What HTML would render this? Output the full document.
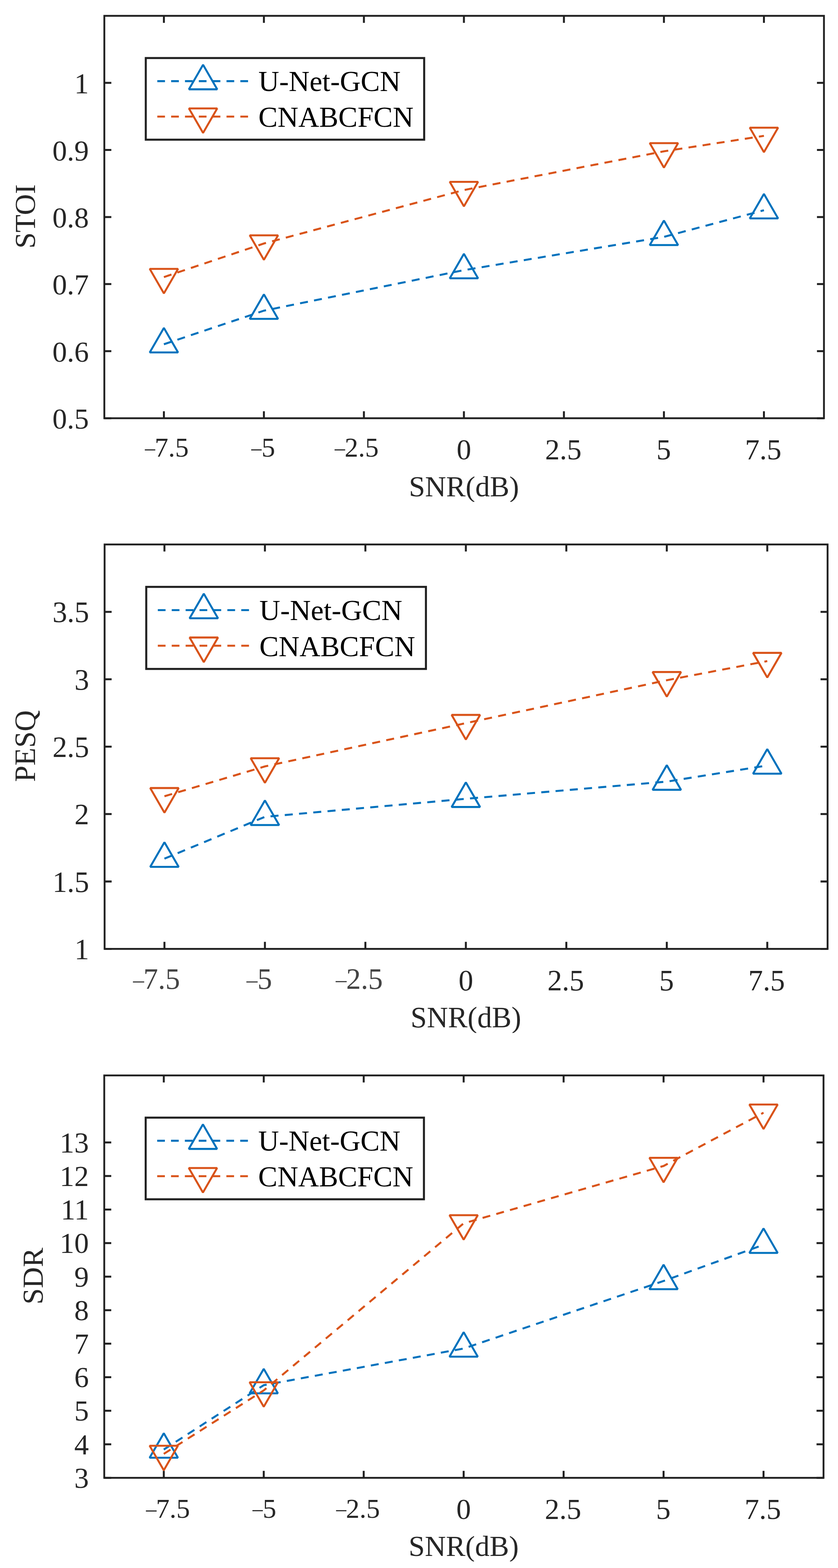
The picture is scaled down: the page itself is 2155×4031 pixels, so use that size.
<!DOCTYPE html>
<html lang="en"><head><meta charset="utf-8"><title>STOI, PESQ and SDR versus SNR</title>
<style>
html,body{margin:0;padding:0;background:#fff}
body{width:2155px;height:4031px;overflow:hidden}
svg{display:block}
svg text{font-family:"Liberation Serif","Times New Roman",Times,serif}
</style></head><body>
<svg width="2155" height="4031" viewBox="0 0 2155 4031">
<defs><clipPath id="xlc"><rect x="900" y="1206.1000000000001" width="600" height="84.2"/></clipPath></defs>
<rect width="2155" height="4031" fill="#fff"/>
<g transform="translate(0,0)">
<polyline points="421.47,885.00 678.65,798.70 1193.00,694.50 1707.35,609.00 1964.53,540.50" fill="none" stroke="#0072BD" stroke-width="5.1" stroke-dasharray="20.5 16.12"/>
<polygon points="421.47,843.00 457.85,906.00 385.10,906.00" fill="none" stroke="#0072BD" stroke-width="5.1" stroke-linejoin="bevel"/>
<polygon points="678.65,756.70 715.02,819.70 642.28,819.70" fill="none" stroke="#0072BD" stroke-width="5.1" stroke-linejoin="bevel"/>
<polygon points="1193.00,652.50 1229.37,715.50 1156.63,715.50" fill="none" stroke="#0072BD" stroke-width="5.1" stroke-linejoin="bevel"/>
<polygon points="1707.35,567.00 1743.72,630.00 1670.98,630.00" fill="none" stroke="#0072BD" stroke-width="5.1" stroke-linejoin="bevel"/>
<polygon points="1964.53,498.50 2000.90,561.50 1928.15,561.50" fill="none" stroke="#0072BD" stroke-width="5.1" stroke-linejoin="bevel"/>
<polyline points="421.47,712.30 678.65,626.00 1193.00,488.50 1707.35,389.00 1964.53,349.30" fill="none" stroke="#D95319" stroke-width="5.1" stroke-dasharray="20.5 16.12"/>
<polygon points="421.47,754.30 457.85,691.30 385.10,691.30" fill="none" stroke="#D95319" stroke-width="5.1" stroke-linejoin="bevel"/>
<polygon points="678.65,668.00 715.02,605.00 642.28,605.00" fill="none" stroke="#D95319" stroke-width="5.1" stroke-linejoin="bevel"/>
<polygon points="1193.00,530.50 1229.37,467.50 1156.63,467.50" fill="none" stroke="#D95319" stroke-width="5.1" stroke-linejoin="bevel"/>
<polygon points="1707.35,431.00 1743.72,368.00 1670.98,368.00" fill="none" stroke="#D95319" stroke-width="5.1" stroke-linejoin="bevel"/>
<polygon points="1964.53,391.30 2000.90,328.30 1928.15,328.30" fill="none" stroke="#D95319" stroke-width="5.1" stroke-linejoin="bevel"/>
<rect x="268.3" y="40.7" width="1850.60" height="1034.50" fill="none" stroke="#202020" stroke-width="4.7"/>
<path d="M421.47 1075.2V1057.2M421.47 40.7V58.7M678.65 1075.2V1057.2M678.65 40.7V58.7M935.83 1075.2V1057.2M935.83 40.7V58.7M1193.00 1075.2V1057.2M1193.00 40.7V58.7M1450.17 1075.2V1057.2M1450.17 40.7V58.7M1707.35 1075.2V1057.2M1707.35 40.7V58.7M1964.53 1075.2V1057.2M1964.53 40.7V58.7M268.3 1075.20H286.3M2118.9 1075.20H2100.9M268.3 902.78H286.3M2118.9 902.78H2100.9M268.3 730.37H286.3M2118.9 730.37H2100.9M268.3 557.95H286.3M2118.9 557.95H2100.9M268.3 385.53H286.3M2118.9 385.53H2100.9M268.3 213.12H286.3M2118.9 213.12H2100.9" fill="none" stroke="#202020" stroke-width="5.0"/>
<g fill="#262626" font-size="75">



<text x="1193.00" y="1180.80" text-anchor="middle">0</text>
<text x="1448.58" y="1180.80" text-anchor="middle">2.5</text>
<text x="1706.75" y="1180.80" text-anchor="middle">5</text>
<text x="1962.73" y="1180.80" text-anchor="middle">7.5</text>
<text x="228.6" y="1102.20" text-anchor="end">0.5</text>
<text x="228.6" y="929.78" text-anchor="end">0.6</text>
<text x="228.6" y="757.37" text-anchor="end">0.7</text>
<text x="228.6" y="584.95" text-anchor="end">0.8</text>
<text x="228.6" y="412.53" text-anchor="end">0.9</text>
<text x="228.6" y="240.12" text-anchor="end">1</text>
<text x="1193.10" y="1276.10" text-anchor="middle" clip-path="url(#xlc)">SNR(dB)</text>
<text transform="translate(90.2,556.45) rotate(-90)" text-anchor="middle">STOI</text>
</g>
<rect x="374.9" y="149.2" width="715.90" height="209.90" fill="#fff" stroke="#202020" stroke-width="5.2"/>
<line x1="404.5" y1="208.6" x2="638.7" y2="208.6" stroke="#0072BD" stroke-width="5.1" stroke-dasharray="19.8 15.8"/>
<polygon points="522.20,166.60 558.57,229.60 485.83,229.60" fill="none" stroke="#0072BD" stroke-width="5.1" stroke-linejoin="bevel"/>
<text x="664.5" y="234.1" font-size="74" fill="#000">U-Net-GCN</text>
<line x1="404.5" y1="299.7" x2="638.7" y2="299.7" stroke="#D95319" stroke-width="5.1" stroke-dasharray="19.8 15.8"/>
<polygon points="522.20,341.70 558.57,278.70 485.83,278.70" fill="none" stroke="#D95319" stroke-width="5.1" stroke-linejoin="bevel"/>
<text x="664.5" y="326.4" font-size="74" fill="#000">CNABCFCN</text>
</g>
<g transform="translate(-0.55,1358.8) scale(1.00465,1.00503)">
<polyline points="421.47,844.38 678.65,737.41 1193.00,691.24 1707.35,647.26 1964.53,606.07" fill="none" stroke="#0072BD" stroke-width="5.1" stroke-dasharray="20.5 16.12"/>
<polygon points="421.47,802.38 457.85,865.38 385.10,865.38" fill="none" stroke="#0072BD" stroke-width="5.1" stroke-linejoin="bevel"/>
<polygon points="678.65,695.41 715.02,758.41 642.28,758.41" fill="none" stroke="#0072BD" stroke-width="5.1" stroke-linejoin="bevel"/>
<polygon points="1193.00,649.24 1229.37,712.24 1156.63,712.24" fill="none" stroke="#0072BD" stroke-width="5.1" stroke-linejoin="bevel"/>
<polygon points="1707.35,605.26 1743.72,668.26 1670.98,668.26" fill="none" stroke="#0072BD" stroke-width="5.1" stroke-linejoin="bevel"/>
<polygon points="1964.53,564.07 2000.90,627.07 1928.15,627.07" fill="none" stroke="#0072BD" stroke-width="5.1" stroke-linejoin="bevel"/>
<polyline points="421.47,684.78 678.65,608.46 1193.00,497.71 1707.35,387.96 1964.53,339.00" fill="none" stroke="#D95319" stroke-width="5.1" stroke-dasharray="20.5 16.12"/>
<polygon points="421.47,726.78 457.85,663.78 385.10,663.78" fill="none" stroke="#D95319" stroke-width="5.1" stroke-linejoin="bevel"/>
<polygon points="678.65,650.46 715.02,587.46 642.28,587.46" fill="none" stroke="#D95319" stroke-width="5.1" stroke-linejoin="bevel"/>
<polygon points="1193.00,539.71 1229.37,476.71 1156.63,476.71" fill="none" stroke="#D95319" stroke-width="5.1" stroke-linejoin="bevel"/>
<polygon points="1707.35,429.96 1743.72,366.96 1670.98,366.96" fill="none" stroke="#D95319" stroke-width="5.1" stroke-linejoin="bevel"/>
<polygon points="1964.53,381.00 2000.90,318.00 1928.15,318.00" fill="none" stroke="#D95319" stroke-width="5.1" stroke-linejoin="bevel"/>
<rect x="268.3" y="40.7" width="1850.60" height="1034.50" fill="none" stroke="#202020" stroke-width="4.7"/>
<path d="M421.47 1075.2V1057.2M421.47 40.7V58.7M678.65 1075.2V1057.2M678.65 40.7V58.7M935.83 1075.2V1057.2M935.83 40.7V58.7M1193.00 1075.2V1057.2M1193.00 40.7V58.7M1450.17 1075.2V1057.2M1450.17 40.7V58.7M1707.35 1075.2V1057.2M1707.35 40.7V58.7M1964.53 1075.2V1057.2M1964.53 40.7V58.7M268.3 1075.20H286.3M2118.9 1075.20H2100.9M268.3 902.78H286.3M2118.9 902.78H2100.9M268.3 730.37H286.3M2118.9 730.37H2100.9M268.3 557.95H286.3M2118.9 557.95H2100.9M268.3 385.53H286.3M2118.9 385.53H2100.9M268.3 213.12H286.3M2118.9 213.12H2100.9" fill="none" stroke="#202020" stroke-width="5.0"/>
<g fill="#262626" font-size="75">



<text x="1193.00" y="1180.80" text-anchor="middle">0</text>
<text x="1448.58" y="1180.80" text-anchor="middle">2.5</text>
<text x="1706.75" y="1180.80" text-anchor="middle">5</text>
<text x="1962.73" y="1180.80" text-anchor="middle">7.5</text>
<text x="228.6" y="1101.50" text-anchor="end">1</text>
<text x="228.6" y="929.08" text-anchor="end">1.5</text>
<text x="228.6" y="756.67" text-anchor="end">2</text>
<text x="228.6" y="584.25" text-anchor="end">2.5</text>
<text x="228.6" y="411.83" text-anchor="end">3</text>
<text x="228.6" y="239.42" text-anchor="end">3.5</text>
<text x="1193.10" y="1276.10" text-anchor="middle" clip-path="url(#xlc)">SNR(dB)</text>
<text transform="translate(90.5,556.45) rotate(-90)" text-anchor="middle">PESQ</text>
</g>
<rect x="374.9" y="149.2" width="715.90" height="209.90" fill="#fff" stroke="#202020" stroke-width="5.2"/>
<line x1="404.5" y1="208.6" x2="638.7" y2="208.6" stroke="#0072BD" stroke-width="5.1" stroke-dasharray="19.8 15.8"/>
<polygon points="522.20,166.60 558.57,229.60 485.83,229.60" fill="none" stroke="#0072BD" stroke-width="5.1" stroke-linejoin="bevel"/>
<text x="664.5" y="234.1" font-size="74" fill="#000">U-Net-GCN</text>
<line x1="404.5" y1="299.7" x2="638.7" y2="299.7" stroke="#D95319" stroke-width="5.1" stroke-dasharray="19.8 15.8"/>
<polygon points="522.20,341.70 558.57,278.70 485.83,278.70" fill="none" stroke="#D95319" stroke-width="5.1" stroke-linejoin="bevel"/>
<text x="664.5" y="326.4" font-size="74" fill="#000">CNABCFCN</text>
</g>
<g transform="translate(-0.07,2724.0) scale(0.9995,1)">
<polyline points="421.47,1002.50 678.65,837.00 1193.00,742.80 1707.35,569.20 1964.53,476.00" fill="none" stroke="#0072BD" stroke-width="5.1" stroke-dasharray="20.5 16.12"/>
<polygon points="421.47,960.50 457.85,1023.50 385.10,1023.50" fill="none" stroke="#0072BD" stroke-width="5.1" stroke-linejoin="bevel"/>
<polygon points="678.65,795.00 715.02,858.00 642.28,858.00" fill="none" stroke="#0072BD" stroke-width="5.1" stroke-linejoin="bevel"/>
<polygon points="1193.00,700.80 1229.37,763.80 1156.63,763.80" fill="none" stroke="#0072BD" stroke-width="5.1" stroke-linejoin="bevel"/>
<polygon points="1707.35,527.20 1743.72,590.20 1670.98,590.20" fill="none" stroke="#0072BD" stroke-width="5.1" stroke-linejoin="bevel"/>
<polygon points="1964.53,434.00 2000.90,497.00 1928.15,497.00" fill="none" stroke="#0072BD" stroke-width="5.1" stroke-linejoin="bevel"/>
<polyline points="421.47,1013.70 678.65,850.50 1193.00,421.00 1707.35,273.50 1964.53,136.50" fill="none" stroke="#D95319" stroke-width="5.1" stroke-dasharray="20.5 16.12"/>
<polygon points="421.47,1055.70 457.85,992.70 385.10,992.70" fill="none" stroke="#D95319" stroke-width="5.1" stroke-linejoin="bevel"/>
<polygon points="678.65,892.50 715.02,829.50 642.28,829.50" fill="none" stroke="#D95319" stroke-width="5.1" stroke-linejoin="bevel"/>
<polygon points="1193.00,463.00 1229.37,400.00 1156.63,400.00" fill="none" stroke="#D95319" stroke-width="5.1" stroke-linejoin="bevel"/>
<polygon points="1707.35,315.50 1743.72,252.50 1670.98,252.50" fill="none" stroke="#D95319" stroke-width="5.1" stroke-linejoin="bevel"/>
<polygon points="1964.53,178.50 2000.90,115.50 1928.15,115.50" fill="none" stroke="#D95319" stroke-width="5.1" stroke-linejoin="bevel"/>
<rect x="268.3" y="40.7" width="1850.60" height="1034.50" fill="none" stroke="#202020" stroke-width="4.7"/>
<path d="M421.47 1075.2V1057.2M421.47 40.7V58.7M678.65 1075.2V1057.2M678.65 40.7V58.7M935.83 1075.2V1057.2M935.83 40.7V58.7M1193.00 1075.2V1057.2M1193.00 40.7V58.7M1450.17 1075.2V1057.2M1450.17 40.7V58.7M1707.35 1075.2V1057.2M1707.35 40.7V58.7M1964.53 1075.2V1057.2M1964.53 40.7V58.7M268.3 1075.20H286.3M2118.9 1075.20H2100.9M268.3 988.99H286.3M2118.9 988.99H2100.9M268.3 902.78H286.3M2118.9 902.78H2100.9M268.3 816.58H286.3M2118.9 816.58H2100.9M268.3 730.37H286.3M2118.9 730.37H2100.9M268.3 644.16H286.3M2118.9 644.16H2100.9M268.3 557.95H286.3M2118.9 557.95H2100.9M268.3 471.74H286.3M2118.9 471.74H2100.9M268.3 385.53H286.3M2118.9 385.53H2100.9M268.3 299.33H286.3M2118.9 299.33H2100.9M268.3 213.12H286.3M2118.9 213.12H2100.9" fill="none" stroke="#202020" stroke-width="5.0"/>
<g fill="#262626" font-size="75">



<text x="1193.00" y="1180.80" text-anchor="middle">0</text>
<text x="1448.58" y="1180.80" text-anchor="middle">2.5</text>
<text x="1706.75" y="1180.80" text-anchor="middle">5</text>
<text x="1962.73" y="1180.80" text-anchor="middle">7.5</text>
<text x="228.6" y="1100.80" text-anchor="end">3</text>
<text x="228.6" y="1014.59" text-anchor="end">4</text>
<text x="228.6" y="928.38" text-anchor="end">5</text>
<text x="228.6" y="842.18" text-anchor="end">6</text>
<text x="228.6" y="755.97" text-anchor="end">7</text>
<text x="228.6" y="669.76" text-anchor="end">8</text>
<text x="228.6" y="583.55" text-anchor="end">9</text>
<text x="228.6" y="497.34" text-anchor="end">10</text>
<text x="228.6" y="411.13" text-anchor="end">11</text>
<text x="228.6" y="324.93" text-anchor="end">12</text>
<text x="228.6" y="238.72" text-anchor="end">13</text>
<text x="1193.10" y="1276.10" text-anchor="middle" clip-path="url(#xlc)">SNR(dB)</text>
<text transform="translate(110.5,556.45) rotate(-90)" text-anchor="middle">SDR</text>
</g>
<rect x="374.9" y="149.2" width="715.90" height="209.90" fill="#fff" stroke="#202020" stroke-width="5.2"/>
<line x1="404.5" y1="208.6" x2="638.7" y2="208.6" stroke="#0072BD" stroke-width="5.1" stroke-dasharray="19.8 15.8"/>
<polygon points="522.20,166.60 558.57,229.60 485.83,229.60" fill="none" stroke="#0072BD" stroke-width="5.1" stroke-linejoin="bevel"/>
<text x="664.5" y="234.1" font-size="74" fill="#000">U-Net-GCN</text>
<line x1="404.5" y1="299.7" x2="638.7" y2="299.7" stroke="#D95319" stroke-width="5.1" stroke-dasharray="19.8 15.8"/>
<polygon points="522.20,341.70 558.57,278.70 485.83,278.70" fill="none" stroke="#D95319" stroke-width="5.1" stroke-linejoin="bevel"/>
<text x="664.5" y="326.4" font-size="74" fill="#000">CNABCFCN</text>
</g>
<text fill="#262626"><tspan x="369.42" y="1175.69" font-size="57.81">−</tspan><tspan x="397.79" y="1174.00" font-size="70">7.5</tspan></text>
<text fill="#262626"><tspan x="643.11" y="1175.76" font-size="58.03">−</tspan><tspan x="672.53" y="1174.00" font-size="70">5</tspan></text>
<text fill="#262626"><tspan x="857.39" y="1175.91" font-size="58.46">−</tspan><tspan x="886.33" y="1174.00" font-size="70">2.5</tspan></text>
<text fill="#444"><tspan x="338.70" y="2544.79" font-size="62.33">−</tspan><tspan x="368.74" y="2542.30" font-size="75.3">7.5</tspan></text>
<text fill="#444"><tspan x="630.60" y="2544.79" font-size="62.33">−</tspan><tspan x="662.03" y="2542.30" font-size="75.3">5</tspan></text>
<text fill="#444"><tspan x="860.05" y="2544.44" font-size="61.25">−</tspan><tspan x="890.29" y="2542.30" font-size="75.3">2.5</tspan></text>
<text fill="#262626"><tspan x="372.25" y="3903.99" font-size="59.32">−</tspan><tspan x="401.09" y="3902.30" font-size="70">7.5</tspan></text>
<text fill="#262626"><tspan x="646.13" y="3903.42" font-size="57.60">−</tspan><tspan x="675.43" y="3902.30" font-size="70">5</tspan></text>
<text fill="#262626"><tspan x="861.14" y="3903.35" font-size="57.38">−</tspan><tspan x="889.43" y="3902.30" font-size="70">2.5</tspan></text>
</svg>
</body></html>
